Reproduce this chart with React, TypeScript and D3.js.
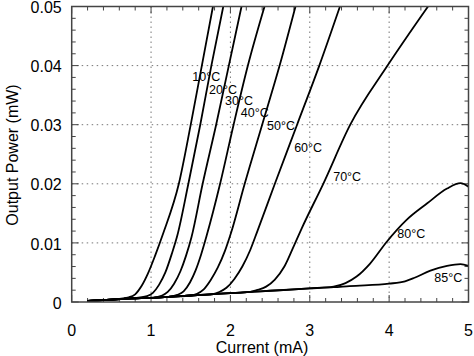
import React from "react";
import * as d3 from "d3";

type Pt = [number, number];

// Spontaneous-emission base shared by all curves (current mA, power mW)
const baseLine: Pt[] = [
  [0.2, 0.0002], [0.5, 0.0004], [0.75, 0.0006], [1.0, 0.0007], [1.25, 0.0009],
  [1.5, 0.0011], [1.75, 0.0013], [2.0, 0.0015], [2.25, 0.0017], [2.5, 0.0019],
  [3.0, 0.0023], [3.3, 0.0025], [3.5, 0.0027], [4.0, 0.0031],
];

const rise10: Pt[] = [[0.72, 0.0008], [0.8, 0.0013], [0.88, 0.0027], [0.96, 0.0048], [1.05, 0.0078], [1.15, 0.0115], [1.35, 0.02], [1.5, 0.03], [1.64, 0.04], [1.78, 0.05]];
const rise20: Pt[] = [[0.95, 0.001], [1.02, 0.0015], [1.1, 0.0029], [1.18, 0.005], [1.26, 0.0081], [1.33, 0.0112], [1.47, 0.02], [1.62, 0.03], [1.76, 0.04], [1.91, 0.05]];
const rise30: Pt[] = [[1.14, 0.0011], [1.21, 0.0017], [1.29, 0.0031], [1.37, 0.0052], [1.44, 0.0078], [1.51, 0.011], [1.65, 0.02], [1.82, 0.03], [1.98, 0.04], [2.14, 0.05]];
const rise40: Pt[] = [[1.33, 0.0012], [1.41, 0.0018], [1.49, 0.0033], [1.56, 0.0053], [1.63, 0.008], [1.7, 0.0112], [1.87, 0.02], [2.04, 0.03], [2.22, 0.04], [2.43, 0.05]];
const rise50: Pt[] = [[1.58, 0.0014], [1.66, 0.0021], [1.75, 0.0037], [1.84, 0.0058], [1.93, 0.0086], [2.01, 0.0118], [2.18, 0.02], [2.4, 0.03], [2.62, 0.04], [2.82, 0.05]];
const rise60: Pt[] = [[1.86, 0.0017], [1.95, 0.0024], [2.05, 0.0039], [2.15, 0.006], [2.25, 0.0088], [2.34, 0.012], [2.56, 0.02], [2.84, 0.03], [3.12, 0.04], [3.38, 0.05]];
const rise70: Pt[] = [[2.33, 0.002], [2.45, 0.0026], [2.56, 0.0038], [2.68, 0.006], [2.8, 0.0095], [2.9, 0.0125], [3.17, 0.02], [3.51, 0.03], [3.98, 0.04], [4.49, 0.05]];
const rise80: Pt[] = [[3.3, 0.0026], [3.45, 0.0032], [3.59, 0.0043], [3.76, 0.0065], [3.97, 0.0102], [4.22, 0.0139], [4.48, 0.0167], [4.73, 0.0192], [4.9, 0.0201], [5.0, 0.0195]];
const rise85: Pt[] = [[4.2, 0.0035], [4.32, 0.0041], [4.52, 0.0053], [4.73, 0.0061], [4.9, 0.0064], [5.0, 0.0061]];

const temps = ["10°C", "20°C", "30°C", "40°C", "50°C", "60°C", "70°C", "80°C", "85°C"];
const rises = [rise10, rise20, rise30, rise40, rise50, rise60, rise70, rise80, rise85];
// label anchor (left, middle) in data units
const labelPos: Pt[] = [
  [1.52, 0.0381], [1.73, 0.036], [1.933, 0.034], [2.13, 0.0321], [2.462, 0.0299],
  [2.803, 0.0261], [3.295, 0.0212], [4.102, 0.0115], [4.569, 0.0041],
];

const xTicks = [0, 1, 2, 3, 4, 5];
const yTicks = [0, 0.01, 0.02, 0.03, 0.04, 0.05];
const yTickLabels = ["0", "0.01", "0.02", "0.03", "0.04", "0.05"];

const W = 474, H = 356;
const L = 71.7, R = 468.5, T = 6.5, B = 302;
const FONT = "Arial, 'Liberation Sans', Helvetica, sans-serif";

export default function App() {
  const x = d3.scaleLinear().domain([0, 5]).range([L, R]);
  const y = d3.scaleLinear().domain([0, 0.05]).range([B, T]);
  const line = d3.line<Pt>().x((d) => x(d[0])).y((d) => y(d[1])).curve(d3.curveMonotoneX);

  const curves = rises.map((r) => [...baseLine.filter((b) => b[0] < r[0][0] - 0.04), ...r]);

  const xMinor = d3.range(0, 5.0001, 0.2);
  const yMinor = d3.range(0, 0.05001, 0.002);
  const frame = "#444";

  return (
    <svg width={W} height={H} style={{ position: "absolute", left: 0, top: 0, background: "#fff" }} fontFamily={FONT}>
      <defs>
        <clipPath id="plot">
          <rect x={L} y={T} width={R - L} height={B - T} />
        </clipPath>
      </defs>
      {xTicks.slice(1, -1).map((t) => (
        <line key={"gx" + t} x1={x(t)} x2={x(t)} y1={T} y2={B} stroke="#777" strokeWidth={1} strokeDasharray="1.5,3.5" />
      ))}
      {yTicks.slice(1, -1).map((t) => (
        <line key={"gy" + t} x1={L} x2={R} y1={y(t)} y2={y(t)} stroke="#777" strokeWidth={1} strokeDasharray="1.5,3.5" />
      ))}
      {xMinor.map((t, i) => {
        const len = i % 5 === 0 ? 7 : 4;
        return (
          <g key={"xm" + i}>
            <line x1={x(t)} x2={x(t)} y1={B} y2={B - len} stroke={frame} strokeWidth={1} />
            <line x1={x(t)} x2={x(t)} y1={T} y2={T + len} stroke={frame} strokeWidth={1} />
          </g>
        );
      })}
      {yMinor.map((t, i) => {
        const len = i % 5 === 0 ? 7 : 4;
        return (
          <g key={"ym" + i}>
            <line x1={L} x2={L + len} y1={y(t)} y2={y(t)} stroke={frame} strokeWidth={1} />
            <line x1={R} x2={R - len} y1={y(t)} y2={y(t)} stroke={frame} strokeWidth={1} />
          </g>
        );
      })}
      <g clipPath="url(#plot)">
        {curves.map((c, i) => (
          <path key={"c" + i} d={line(c) || ""} fill="none" stroke="#000" strokeWidth={1.8} strokeLinejoin="round" />
        ))}
      </g>
      <rect x={L} y={T} width={R - L} height={B - T} fill="none" stroke={frame} strokeWidth={1.5} />
      {temps.map((t, i) => (
        <text key={"l" + i} x={x(labelPos[i][0])} y={y(labelPos[i][1])} dy="0.35em" fontSize={12.5} fill="#000">
          {t}
        </text>
      ))}
      {xTicks.map((t) => (
        <text key={"xt" + t} x={x(t)} y={B + 28} dy="0.35em" textAnchor="middle" fontSize={16} fill="#000">
          {t}
        </text>
      ))}
      {yTicks.map((t, i) => (
        <text key={"yt" + t} x={L - 10} y={y(t) + 1} dy="0.35em" textAnchor="end" fontSize={16} fill="#000">
          {yTickLabels[i]}
        </text>
      ))}
      <text x={262} y={347} dy="0.35em" textAnchor="middle" fontSize={16} fill="#000">
        Current (mA)
      </text>
      <text transform={`translate(12,155) rotate(-90)`} dy="0.35em" textAnchor="middle" fontSize={16} fill="#000">
        Output Power (mW)
      </text>
    </svg>
  );
}
